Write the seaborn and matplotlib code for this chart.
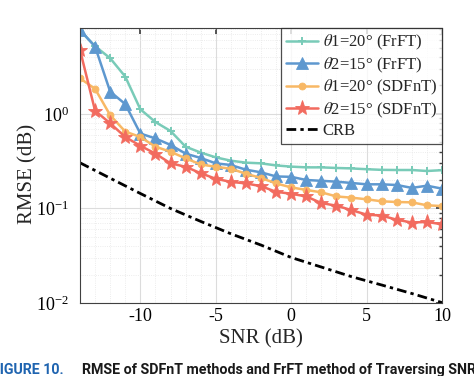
import numpy as np
import pandas as pd
import matplotlib
matplotlib.use("Agg")
import matplotlib.pyplot as plt
import seaborn as sns
from matplotlib.ticker import LogLocator, NullFormatter, FixedLocator

snr = list(range(-14, 11))
frft_t1 = [7.6, 5.2, 3.88, 2.48, 1.12, 0.82, 0.66, 0.45, 0.39, 0.347, 0.32, 0.305, 0.30,
           0.285, 0.277, 0.272, 0.272, 0.268, 0.265, 0.26, 0.256, 0.255, 0.255, 0.249, 0.254]
frft_t2 = [7.74, 5.15, 1.72, 1.27, 0.62, 0.55, 0.47, 0.38, 0.342, 0.30, 0.288, 0.257, 0.241,
           0.218, 0.216, 0.20, 0.196, 0.192, 0.186, 0.18, 0.18, 0.177, 0.165, 0.174, 0.162]
sdfnt_t1 = [2.38, 1.84, 0.97, 0.65, 0.57, 0.45, 0.398, 0.339, 0.292, 0.276, 0.263, 0.233, 0.21,
            0.184, 0.167, 0.157, 0.148, 0.134, 0.13, 0.125, 0.119, 0.117, 0.116, 0.108, 0.106]
sdfnt_t2 = [4.75, 1.08, 0.795, 0.57, 0.46, 0.38, 0.30, 0.276, 0.236, 0.206, 0.191, 0.184, 0.172,
            0.15, 0.143, 0.134, 0.114, 0.107, 0.096, 0.086, 0.084, 0.076, 0.071, 0.072, 0.068]
crb_snr = [-14, -12, -10, -8, -6, -4, -2, 0, 2, 4, 6, 8, 10]
crb = [0.304, 0.209, 0.144, 0.100, 0.073, 0.054, 0.041, 0.0303, 0.024, 0.019, 0.0155, 0.0126, 0.0101]

labels = [r"$\theta$1=20° (FrFT)", r"$\theta$2=15° (FrFT)",
          r"$\theta$1=20° (SDFnT)", r"$\theta$2=15° (SDFnT)", "CRB"]
xtick_vals = [-10, -5, 0, 5, 10]
xtick_labels = ['-10', '-5', '0', '5', '10']
ytick_vals = [0.01, 0.1, 1]
ytick_labels = [r'$\mathregular{10^{-2}}$', r'$\mathregular{10^{-1}}$', r'$\mathregular{10^{0}}$']

sns.set_theme(style="white")
plt.rcParams['font.family'] = ['Liberation Serif', 'DejaVu Serif']
plt.rcParams['mathtext.fontset'] = 'stix'

fig = plt.figure(figsize=(4.74, 3.76), dpi=100)
ax = fig.add_axes([80/474, 1-303/376, 362/474, 275/376])

colors = ['#79cbb8', '#5e98cf', '#f8b865', '#f26b5f']
markers = ['+', '^', 'o', '*']
msizes = [6, 8, 5, 11]
series = [frft_t1, frft_t2, sdfnt_t1, sdfnt_t2]
for vals, c, m, ms, lab in zip(series, colors, markers, msizes, labels[:4]):
    df = pd.DataFrame({"SNR": snr, "RMSE": vals})
    sns.lineplot(data=df, x="SNR", y="RMSE", ax=ax, color=c, marker=m, markersize=ms,
                 markeredgewidth=1.4 if m == '+' else 0.6, markeredgecolor=c,
                 linewidth=1.8, label=lab)
dfc = pd.DataFrame({"SNR": crb_snr, "RMSE": crb})
sns.lineplot(data=dfc, x="SNR", y="RMSE", ax=ax, color='black', linewidth=2.0,
             linestyle=(0, (3.5, 1.5, 1.2, 1.5)), label=labels[4])

ax.set_yscale('log')
ax.set_xlim(-14, 10)
ax.set_ylim(0.01, 8.1)
ax.xaxis.set_major_locator(FixedLocator(xtick_vals))
ax.set_xticklabels(xtick_labels)
ax.yaxis.set_minor_locator(LogLocator(base=10, subs=np.arange(2, 10), numticks=20))
ax.yaxis.set_minor_formatter(NullFormatter())
ax.set_yticks(ytick_vals)
ax.set_yticklabels(ytick_labels)

ax.xaxis.set_minor_locator(FixedLocator(np.arange(-14, 11, 1)))
ax.grid(True, which='major', color='#dcdcdc', linewidth=0.8)
ax.grid(True, which='minor', color='#e6e6e6', linewidth=0.6, linestyle=':')
ax.tick_params(which='both', direction='in', top=True, right=True, colors='#404040',
               labelcolor='black', labelsize=13)
ax.tick_params(which='major', length=4)
ax.tick_params(axis='y', which='major', pad=8)
ax.tick_params(which='minor', length=2)
ax.tick_params(axis='x', which='minor', length=0)
for s in ax.spines.values():
    s.set_color('#404040')
    s.set_linewidth(0.8)

ax.set_xlabel("SNR (dB)", fontsize=15, labelpad=3)
ax.set_ylabel("RMSE (dB)", fontsize=15)
ax.yaxis.set_label_coords(-0.118, 0.47)

leg = ax.legend(loc='upper right', fontsize=12, frameon=True, fancybox=False,
                edgecolor='#202020', borderaxespad=0.0, handlelength=1.9,
                handletextpad=0.3, labelspacing=0.2, borderpad=0.3)
leg.get_frame().set_linewidth(0.9)

cap_family = ['Roboto', 'DejaVu Sans']
fig.text(-8/474, 2/376, "FIGURE 10.", color='#1f64b0', fontsize=10.3, fontweight='bold',
         family=cap_family, va='baseline')
fig.text(82/474, 2/376, "RMSE of SDFnT methods and FrFT method of Traversing SNR.",
         color='#1a1a1a', fontsize=10.3, fontweight='bold',
         family=cap_family, va='baseline')

fig.savefig("out.png", dpi=100)
